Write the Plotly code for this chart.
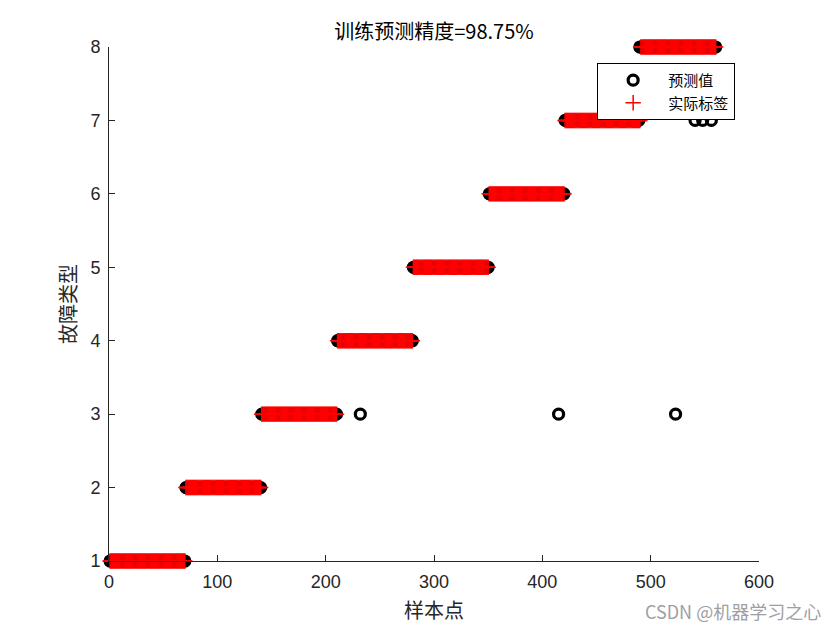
import numpy as np
import plotly.graph_objects as go

# class labels and number of test samples per class
classes = [1, 2, 3, 4, 5, 6, 7, 8]
per_class = [70, 70, 70, 70, 70, 70, 70, 70]

# misclassified samples (sample index, predicted class)
wrong_idx = [232, 415, 490, 523, 541, 548, 556]
wrong_pred = [3, 3, 8, 3, 7, 7, 7]

actual = np.repeat(classes, per_class)
predicted = actual.copy()
for i, p in zip(wrong_idx, wrong_pred):
    predicted[i - 1] = p
samples = np.arange(1, len(actual) + 1)
acc = (predicted == actual).mean() * 100

axis_color = '#262626'
cjk = 'Noto Sans CJK SC'

fig = go.Figure()

fig.add_trace(go.Scatter(x=samples, y=predicted, mode='markers', name='预测值',
                         cliponaxis=False,
                         marker=dict(symbol='circle-open', size=10, color='black',
                                     line=dict(width=3.2, color='black'))))

fig.add_trace(go.Scatter(x=samples, y=actual, mode='markers', name='实际标签',
                         cliponaxis=False,
                         marker=dict(symbol='cross-thin-open', size=11, color='red',
                                     line=dict(width=1.5, color='red'))))

# page body has an 8px margin, so the margins are shifted by that
fig.update_layout(
    width=840, height=630,
    margin=dict(l=101, r=89, t=39, b=77),
    plot_bgcolor='white', paper_bgcolor='white',
    font=dict(family='Liberation Sans, Arial', size=18, color=axis_color),
    title=dict(text=f'训练预测精度={acc:.2f}%', xref='paper', x=0.5, xanchor='center',
               y=0.962, yanchor='middle',
               font=dict(family=cjk, size=20, color='black')),
    legend=dict(x=0.751, y=0.969, xanchor='left', yanchor='top',
                bgcolor='white', bordercolor='black', borderwidth=1,
                font=dict(family=cjk, size=15, color='black'),
                itemwidth=60, tracegroupgap=0),
    showlegend=True,
)

fig.update_xaxes(range=[0, 600], tickvals=[0, 100, 200, 300, 400, 500, 600],
                 showline=True, linecolor=axis_color, linewidth=1,
                 ticks='inside', ticklen=6, tickcolor=axis_color,
                 ticklabelstandoff=4, automargin=False,
                 showgrid=False, zeroline=False, mirror=False,
                 title=dict(text='样本点', font=dict(family=cjk, size=20, color=axis_color), standoff=13))

fig.update_yaxes(range=[1, 8], tickvals=[1, 2, 3, 4, 5, 6, 7, 8],
                 showline=True, linecolor=axis_color, linewidth=1,
                 ticks='inside', ticklen=6, tickcolor=axis_color,
                 ticklabelstandoff=4, automargin=False,
                 showgrid=False, zeroline=False, mirror=False,
                 title=dict(text='故障类型', font=dict(family=cjk, size=20, color=axis_color), standoff=8))

fig.add_annotation(text='CSDN @机器学习之心', xref='paper', yref='paper', x=1.098, y=-0.097,
                   xanchor='right', yanchor='middle', showarrow=False,
                   font=dict(family=cjk, size=18, color='#a0a0a0'))

fig.write_html("out.html")
